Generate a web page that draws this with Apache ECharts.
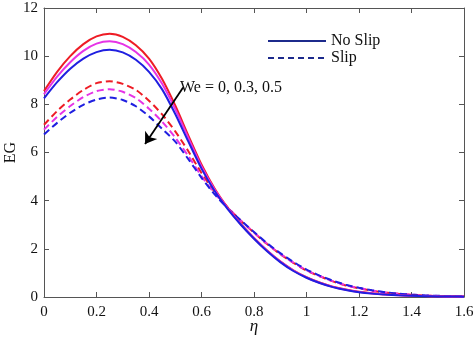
<!DOCTYPE html>
<html>
<head>
<meta charset="utf-8">
<script src="https://cdn.jsdelivr.net/npm/echarts@6/dist/echarts.min.js"></script>
<style>html,body{margin:0;padding:0;background:#fff}#c{width:474px;height:340px}</style>
</head>
<body>
<div id="c"></div>
<script>
const etas = [0,0.05,0.1,0.15,0.2,0.25,0.3,0.35,0.4,0.45,0.5,0.55,0.6,0.65,0.7,0.75,0.8,0.85,0.9,0.95,1.0,1.05,1.1,1.15,1.2,1.25,1.3,1.35,1.4,1.45,1.5,1.55,1.6];
const xTicks = [0,0.2,0.4,0.6,0.8,1,1.2,1.4,1.6];
const yTicks = [0,2,4,6,8,10,12];
// No slip (solid)
const noSlipWe0  = [8.55,9.35,10.0,10.5,10.82,10.93,10.8,10.45,9.9,9.05,7.95,6.7,5.5,4.5,3.7,3.03,2.45,1.93,1.48,1.11,0.82,0.6,0.43,0.31,0.22,0.16,0.11,0.08,0.055,0.04,0.03,0.02,0.015];
const noSlipWe03 = [8.42,9.15,9.75,10.22,10.52,10.62,10.5,10.17,9.65,8.85,7.8,6.6,5.42,4.46,3.68,3.02,2.44,1.92,1.47,1.1,0.81,0.59,0.42,0.3,0.21,0.15,0.105,0.075,0.05,0.037,0.027,0.02,0.014];
const noSlipWe05 = [8.25,8.92,9.48,9.9,10.17,10.27,10.16,9.85,9.35,8.62,7.6,6.45,5.33,4.4,3.65,3.0,2.42,1.9,1.45,1.08,0.8,0.58,0.41,0.29,0.2,0.14,0.1,0.07,0.048,0.035,0.025,0.018,0.013];
// Slip (dashed)
const slipWe0  = [7.15,7.72,8.2,8.6,8.88,8.96,8.85,8.6,8.15,7.58,6.88,6.05,5.15,4.37,3.72,3.17,2.67,2.2,1.78,1.42,1.1,0.86,0.65,0.48,0.36,0.26,0.19,0.13,0.09,0.06,0.04,0.03,0.02];
const slipWe03 = [6.95,7.48,7.93,8.3,8.55,8.63,8.52,8.26,7.82,7.28,6.62,5.85,5.02,4.3,3.7,3.17,2.68,2.21,1.79,1.43,1.11,0.87,0.66,0.49,0.37,0.27,0.19,0.135,0.095,0.065,0.045,0.03,0.02];
const slipWe05 = [6.75,7.23,7.65,7.98,8.2,8.28,8.18,7.92,7.5,6.98,6.45,5.72,4.95,4.26,3.68,3.18,2.7,2.23,1.82,1.46,1.14,0.89,0.68,0.51,0.38,0.28,0.2,0.14,0.1,0.07,0.05,0.035,0.025];
const seriesColors = ['#ee1c25', '#e633e6', '#1f1fe0'];
const legendColor = '#1c2a8c';

const pair = arr => etas.map((e, i) => [e, arr[i]]);
const font = 'Liberation Serif';

function curve(name, arr, color, dashed) {
  return {
    name: name, type: 'line', data: pair(arr), showSymbol: false, symbol: 'none',
    smooth: 0.25, silent: true,
    lineStyle: { color: color, width: 2, type: dashed ? [7, 4] : 'solid' },
    itemStyle: { color: color }, z: dashed ? 2 : 3
  };
}

const chart = echarts.init(document.getElementById('c'), null, { renderer: 'canvas' });
const axisLine = { show: true, onZero: false, lineStyle: { color: '#555', width: 1 } };
const tick = { inside: true, length: 5, lineStyle: { color: '#555' } };
chart.setOption({
  animation: false,
  backgroundColor: '#fff',
  grid: { left: 44, right: 10, top: 8, bottom: 43, outerBoundsMode: 'none', containLabel: false },
  legend: {
    data: ['No Slip', 'Slip'], orient: 'vertical', left: 267, top: 33, padding: 0,
    itemWidth: 58, itemHeight: 10, itemGap: 1,
    itemStyle: { color: 'rgba(0,0,0,0)', borderWidth: 0, opacity: 0 },
    textStyle: { fontFamily: font, fontSize: 16, color: '#111' }
  },
  xAxis: [{
    type: 'value', min: 0, max: 1.6, interval: 0.2,
    name: 'η', nameLocation: 'middle', nameGap: 21, nameMoveOverlap: false,
    nameTextStyle: { fontFamily: font, fontSize: 17, fontStyle: 'italic', color: '#111' },
    axisLine: axisLine, splitLine: { show: false }, axisTick: tick,
    axisLabel: { fontFamily: font, fontSize: 15, color: '#111', margin: 8,
      formatter: v => xTicks.includes(+v.toFixed(1)) ? String(+v.toFixed(1)) : '' }
  }, {
    type: 'value', position: 'top', min: 0, max: 1.6, interval: 0.2,
    axisLine: axisLine, splitLine: { show: false }, axisTick: tick,
    axisLabel: { show: false }
  }],
  yAxis: [{
    type: 'value', min: 0, max: 12, interval: 2,
    name: 'EG', nameLocation: 'middle', nameGap: 25, nameMoveOverlap: false,
    nameTextStyle: { fontFamily: font, fontSize: 16, color: '#111' },
    axisLine: axisLine, splitLine: { show: false }, axisTick: tick,
    axisLabel: { fontFamily: font, fontSize: 15, color: '#111', margin: 6,
      formatter: v => yTicks.includes(v) ? String(v) : '' }
  }, {
    type: 'value', position: 'right', min: 0, max: 12, interval: 2,
    axisLine: axisLine, splitLine: { show: false }, axisTick: tick,
    axisLabel: { show: false }
  }],
  series: [
    curve('No Slip We=0', noSlipWe0, seriesColors[0], false),
    curve('No Slip We=0.3', noSlipWe03, seriesColors[1], false),
    curve('No Slip We=0.5', noSlipWe05, seriesColors[2], false),
    curve('Slip We=0', slipWe0, seriesColors[0], true),
    curve('Slip We=0.3', slipWe03, seriesColors[1], true),
    Object.assign(curve('Slip We=0.5', slipWe05, seriesColors[2], true), {
      markLine: {
        silent: true, symbol: ['none', 'arrow'], symbolSize: 11,
        label: { show: false },
        lineStyle: { color: '#000', width: 1.8, type: 'solid' },
        data: [[{ coord: [0.53, 8.7] }, { coord: [0.385, 6.35] }]]
      }
    }),
    { name: 'No Slip', type: 'line', data: [], symbol: 'none',
      lineStyle: { color: legendColor, width: 2 }, itemStyle: { color: legendColor } },
    { name: 'Slip', type: 'line', data: [], symbol: 'none',
      lineStyle: { color: legendColor, width: 2, type: [6, 4] }, itemStyle: { color: legendColor } }
  ],
  graphic: [{
    type: 'text', left: 180, top: 80,
    style: { text: 'We = 0, 0.3, 0.5', font: '16px "Liberation Serif"', fill: '#111' }
  }]
});
</script>
</body>
</html>
